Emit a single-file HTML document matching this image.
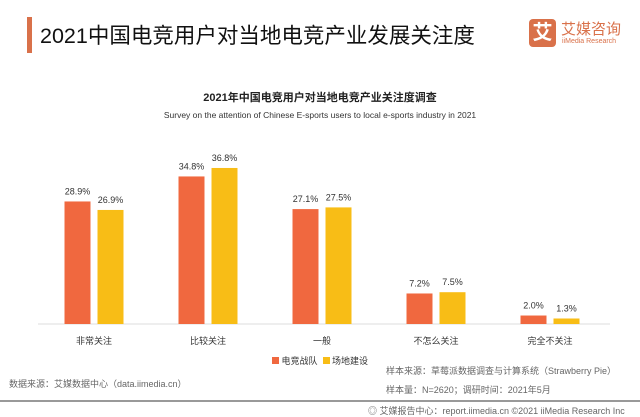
<!DOCTYPE html>
<html><head><meta charset="utf-8"><style>
body{margin:0;width:640px;height:416px;background:#fff;overflow:hidden;font-family:"Liberation Sans","Noto Sans CJK SC",sans-serif;position:relative}
.a{position:absolute;white-space:nowrap}
</style></head><body>
<div class="a" style="left:27px;top:17px;width:5px;height:36px;background:#d9714a"></div>
<div class="a" style="left:40px;top:19px;font-size:21.5px;color:#111">2021中国电竞用户对当地电竞产业发展关注度</div>
<div class="a" style="left:529px;top:19px;width:27px;height:28px;background:#d9714a;border-radius:4px;color:#fff;font-size:20px;text-align:center;line-height:28px;font-weight:bold">艾</div>
<div class="a" style="left:561px;top:18px;font-size:15px;color:#d9714a">艾媒咨询</div>
<div class="a" style="left:562px;top:38px;font-size:7px;color:#d9714a">iiMedia Research</div>
<div class="a" style="left:0;width:640px;text-align:center;top:89px;font-size:11px;font-weight:bold;color:#222">2021年中国电竞用户对当地电竞产业关注度调查</div>
<div class="a" style="left:0;width:640px;text-align:center;top:110px;font-size:8.5px;color:#333">Survey on the attention of Chinese E-sports users to local e-sports industry in 2021</div>
<svg class="a" style="left:0;top:0" width="640" height="416" id="chart"></svg>
<div class="a" style="left:272px;top:354px;font-size:9px;color:#333"><span style="display:inline-block;width:7px;height:7px;background:#f0683f"></span> 电竞战队 &nbsp;<span style="display:inline-block;width:7px;height:7px;background:#f8bd16"></span> 场地建设</div>
<div class="a" style="left:386px;top:364px;font-size:9px;color:#666">样本来源：草莓派数据调查与计算系统（Strawberry Pie）</div>
<div class="a" style="left:386px;top:383px;font-size:9px;color:#666">样本量：N=2620；调研时间：2021年5月</div>
<div class="a" style="left:9px;top:377px;font-size:9px;color:#666">数据来源：艾媒数据中心（data.iimedia.cn）</div>
<div class="a" style="left:0;top:400px;width:640px;height:2px;background:#999"></div>
<div class="a" style="left:368px;top:404px;font-size:9px;color:#666">◎ 艾媒报告中心：report.iimedia.cn ©2021 iiMedia Research Inc</div>
<script>
const categories=["非常关注","比较关注","一般","不怎么关注","完全不关注"];
const teamValues=[28.9,34.8,27.1,7.2,2.0];
const venueValues=[26.9,36.8,27.5,7.5,1.3];
const svg=document.getElementById('chart');
const NS="http://www.w3.org/2000/svg";
const base=324,scale=4.24,x0=94,step=114,bw=26,gap=7;
const y=v=>base-v*scale;
const xc=i=>x0+i*step;
function mk(t,a){const e=document.createElementNS(NS,t);for(const k in a)e.setAttribute(k,a[k]);svg.appendChild(e);return e;}
const ax=mk('line',{x1:38,x2:610,y1:base,y2:base,stroke:'#ddd','stroke-width':1});


categories.forEach((c,i)=>{
  [[teamValues,'#f0683f',-1],[venueValues,'#f8bd16',1]].forEach(([arr,col,s])=>{
    const v=arr[i];const x=s<0?xc(i)-gap/2-bw:xc(i)+gap/2;
    const r=mk('rect',{x:x,y:y(v),width:bw,height:base-y(v),fill:col});
    
    
    const t=mk('text',{x:x+bw/2,y:y(v)-7,'text-anchor':'middle','font-size':9,fill:'#333'});
    t.textContent=v.toFixed(1)+'%';
    
    
  });
  const l=mk('text',{x:xc(i),y:344,'text-anchor':'middle','font-size':9,fill:'#333'});
  l.textContent=c;
  
  
});
</script>
</body></html>
